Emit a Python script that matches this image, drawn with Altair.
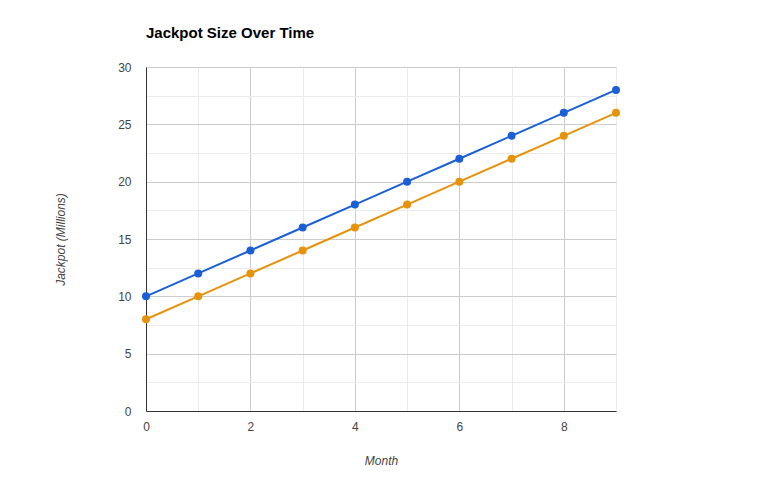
import altair as alt
import pandas as pd

months = [0, 1, 2, 3, 4, 5, 6, 7, 8, 9]
series_a = [10, 12, 14, 16, 18, 20, 22, 24, 26, 28]
series_b = [8, 10, 12, 14, 16, 18, 20, 22, 24, 26]
series_names = ["Jackpot A", "Jackpot B"]
colors = ["#1a5fd6", "#e6920a"]
x_ticks = [0, 1, 2, 3, 4, 5, 6, 7, 8, 9]
y_ticks = [0, 2.5, 5, 7.5, 10, 12.5, 15, 17.5, 20, 22.5, 25, 27.5, 30]

rows = []
for m, a, b in zip(months, series_a, series_b):
    rows.append({"Month": m, "Jackpot": a, "Series": series_names[0]})
    rows.append({"Month": m, "Jackpot": b, "Series": series_names[1]})
df = pd.DataFrame(rows)

font = "Liberation Sans"

x = alt.X(
    "Month:Q",
    scale=alt.Scale(domain=[0, 9], nice=False, zero=False),
    axis=alt.Axis(
        values=x_ticks,
        labelExpr="datum.value % 2 == 0 ? datum.label : ''",
        gridColor={"condition": {"test": "datum.value % 2 == 0", "value": "#cccccc"}, "value": "#ebebeb"},
        ticks=False,
        domainColor="#333333",
        labelPadding=10,
        labelFlush=False,
        labelFont=font,
        labelFontSize=12,
        labelColor="#444444",
        title="Month",
        titleFont=font,
        titleFontSize=12,
        titleFontStyle="italic",
        titleFontWeight="normal",
        titleColor="#444444",
        titleY=49,
        titleBaseline="middle",
    ),
)
y = alt.Y(
    "Jackpot:Q",
    scale=alt.Scale(domain=[0, 30], nice=False),
    axis=alt.Axis(
        values=y_ticks,
        labelExpr="datum.value % 5 == 0 ? datum.label : ''",
        gridColor={"condition": {"test": "datum.value % 5 == 0", "value": "#cccccc"}, "value": "#ebebeb"},
        ticks=False,
        domainColor="#333333",
        labelPadding=15,
        labelFlush=False,
        labelFont=font,
        labelFontSize=12,
        labelColor="#444444",
        title="Jackpot (Millions)",
        titleFont=font,
        titleFontSize=12,
        titleFontStyle="italic",
        titleFontWeight="normal",
        titleColor="#444444",
        titleX=-86,
        titleY=172,
        titleBaseline="middle",
        titleAlign="center",
    ),
)
color = alt.Color(
    "Series:N",
    scale=alt.Scale(domain=series_names, range=colors),
    legend=None,
)

base = alt.Chart(df).encode(x=x, y=y, color=color)
lines = base.mark_line(strokeWidth=2)
points = base.mark_circle(size=64, opacity=1)

chart = (
    alt.layer(lines, points)
    .properties(
        width=470,
        height=344,
        autosize=alt.AutoSizeParams(type="none"),
        padding={"left": 138, "top": 59, "right": 130, "bottom": 60},
        title=alt.TitleParams(
            "Jackpot Size Over Time",
            anchor="start",
            font=font,
            fontSize=15,
            fontWeight="bold",
            color="#000000",
            baseline="bottom",
            offset=5,
            frame="group",
        ),
    )
    .configure_view(stroke=None)
    .configure(background="white")
)

chart.save("out.html", embed_options={"renderer": "svg", "actions": False})
